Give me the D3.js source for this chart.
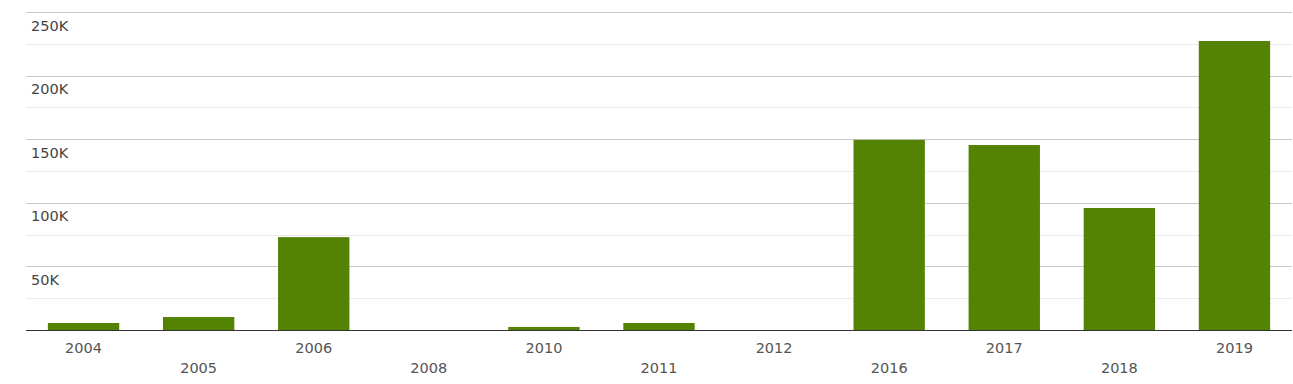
<!DOCTYPE html>
<html>
<head>
<meta charset="utf-8">
<script src="https://cdn.jsdelivr.net/npm/d3@7"></script>
<style>
  html, body { margin: 0; padding: 0; background: #fff; }
  svg { display: block; font-family: "DejaVu Sans", sans-serif; }
</style>
</head>
<body>
<svg id="chart" width="1293" height="384"></svg>
<script>
const categories = ["2004", "2005", "2006", "2008", "2010", "2011", "2012", "2016", "2017", "2018", "2019"];
const values = [5500, 10200, 73000, 0, 2400, 5500, 0, 149500, 145400, 95900, 227200];
const majorTicks = [50000, 100000, 150000, 200000, 250000];
const minorTicks = [25000, 75000, 125000, 175000, 225000];
const tickLabels = ["50K", "100K", "150K", "200K", "250K"];

(function () {
const svg = d3.select("#chart");
const mLeft = 26, mRight = 1292, mTop = 12, mBottom = 330;

const x = d3.scaleBand().domain(categories).range([mLeft, mRight]).paddingInner(0.38).paddingOuter(0.19);
const y = d3.scaleLinear().domain([0, 250000]).range([mBottom, mTop]);

// minor grid
svg.append("g").selectAll("line").data(minorTicks).join("line")
  .attr("x1", mLeft).attr("x2", mRight)
  .attr("y1", d => Math.round(y(d)) + 0.5).attr("y2", d => Math.round(y(d)) + 0.5)
  .attr("stroke", "#ebebeb").attr("stroke-width", 1);

// major grid
svg.append("g").selectAll("line").data(majorTicks).join("line")
  .attr("x1", mLeft).attr("x2", mRight)
  .attr("y1", d => Math.round(y(d)) + 0.5).attr("y2", d => Math.round(y(d)) + 0.5)
  .attr("stroke", "#c8c8c8").attr("stroke-width", 1);

// y labels
svg.append("g").selectAll("text").data(majorTicks).join("text")
  .attr("x", mLeft + 5)
  .attr("y", d => y(d) + 18.5)
  .attr("font-size", 14.5)
  .attr("fill", "#444")
  .text((d, i) => tickLabels[i]);

// bars
svg.append("g").selectAll("rect").data(categories).join("rect")
  .attr("x", d => x(d))
  .attr("width", x.bandwidth())
  .attr("y", (d, i) => y(values[i]))
  .attr("height", (d, i) => y(0) - y(values[i]))
  .attr("fill", "#548203");

// baseline axis
svg.append("line")
  .attr("x1", mLeft).attr("x2", mRight)
  .attr("y1", mBottom + 0.5).attr("y2", mBottom + 0.5)
  .attr("stroke", "#333").attr("stroke-width", 1);

// x labels, staggered
svg.append("g").selectAll("text").data(categories).join("text")
  .attr("x", d => x(d) + x.bandwidth() / 2)
  .attr("y", (d, i) => i % 2 === 0 ? 353 : 373)
  .attr("text-anchor", "middle")
  .attr("font-size", 14.5)
  .attr("fill", "#555")
  .text(d => d);
})();
</script>
</body>
</html>
